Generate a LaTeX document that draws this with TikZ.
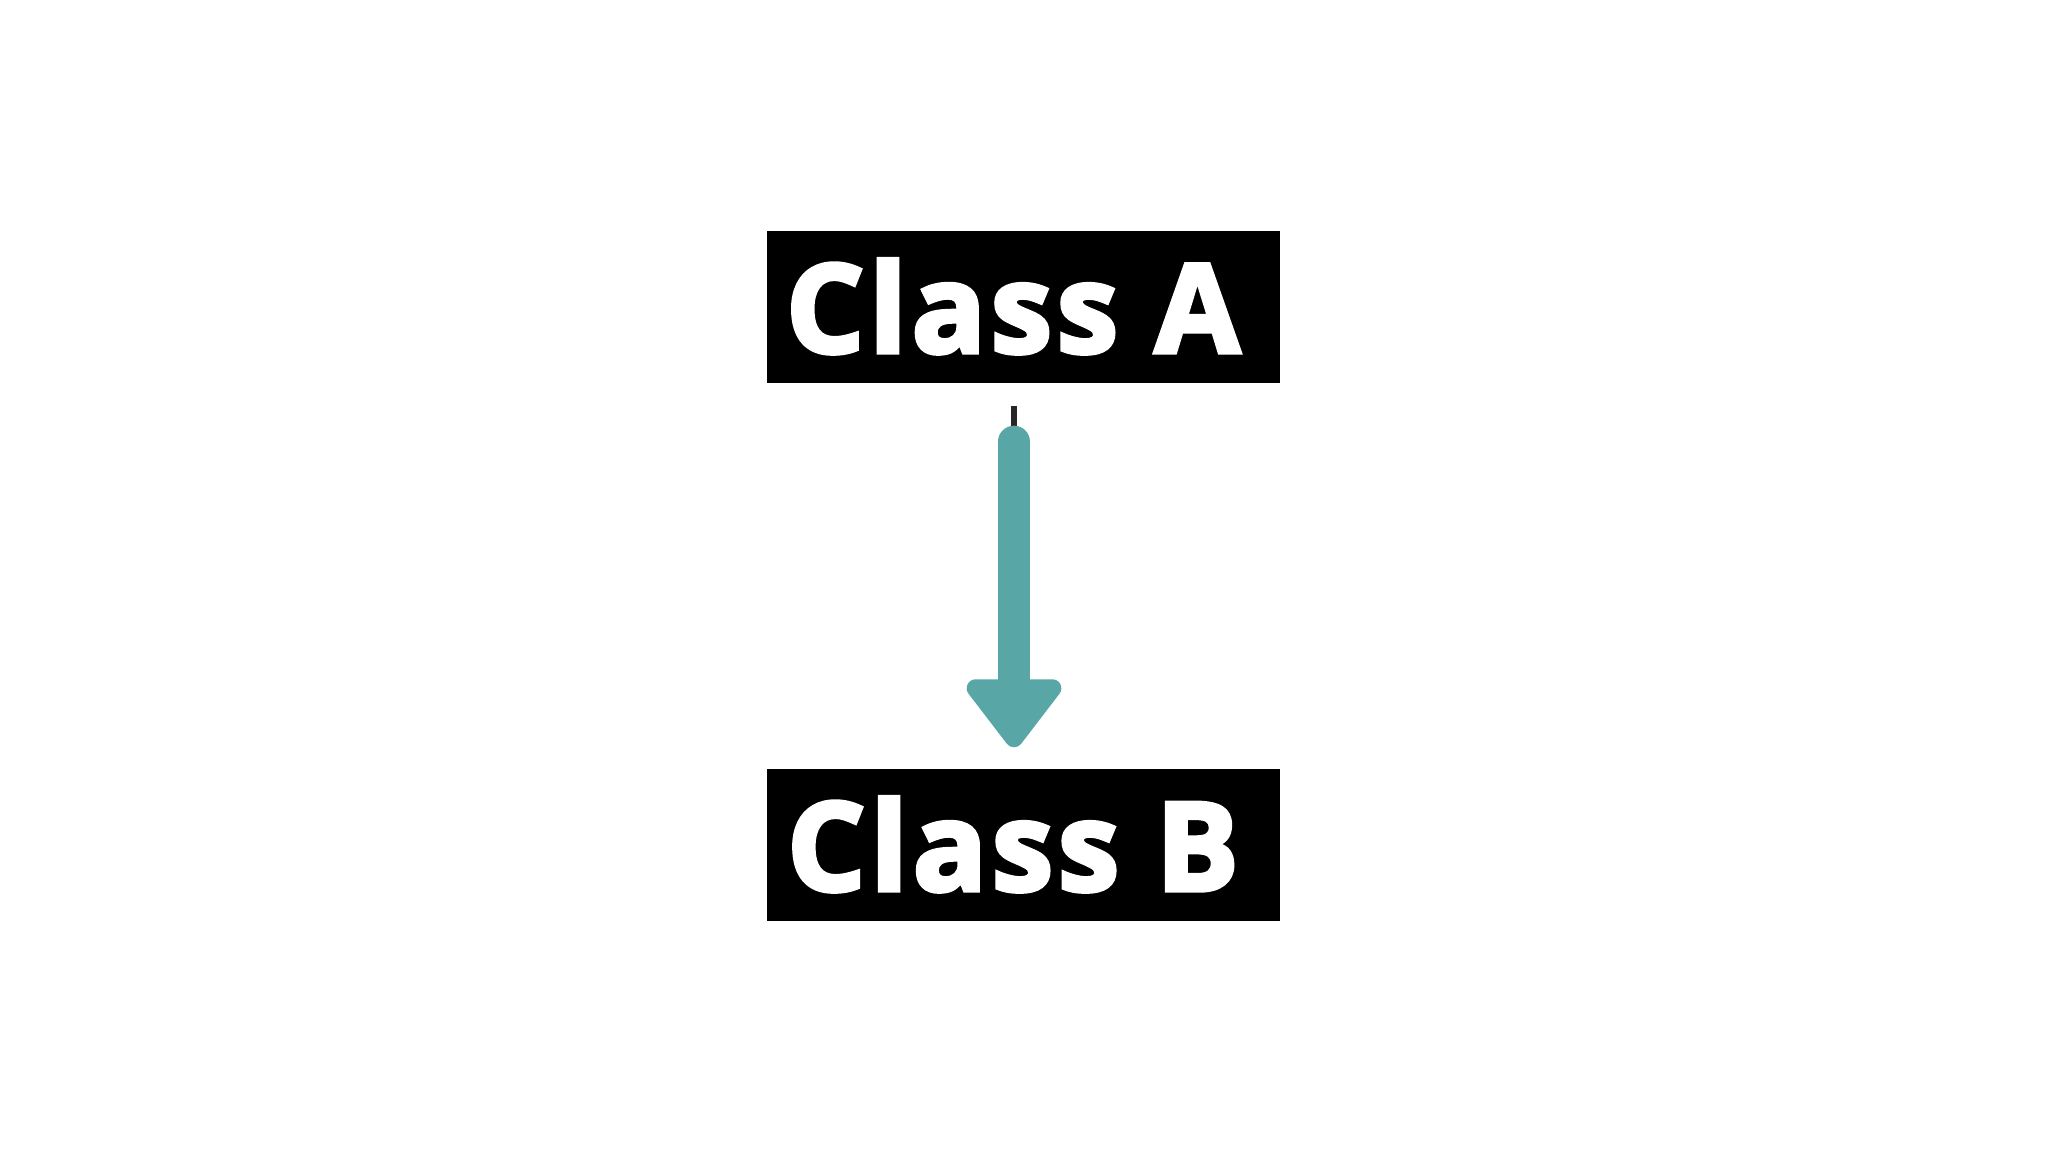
\documentclass[tikz,border=0pt]{standalone}
\usepackage{fontspec}
\setmainfont{Open Sans}[BoldFeatures={FakeBold=3.5,LetterSpace=4}]
\definecolor{arrowteal}{RGB}{88,166,166}
\definecolor{stubgrey}{RGB}{38,38,38}
\tikzset{
  classbox/.style={fill=black, text=white, font=\bfseries\fontsize{35}{40}\selectfont,
    minimum width=51.3mm, minimum height=15.2mm, inner sep=0pt, text height=9.1mm, text depth=0pt,
    execute at end node=\hspace*{2.1mm}},
  stub/.style={stubgrey, line width=0.6mm},
  shaft/.style={arrowteal, line width=3.2mm, line cap=round},
  head/.style={fill=arrowteal, draw=arrowteal, line width=1.8mm, line join=round}
}
\begin{document}
\begin{tikzpicture}[x=0.1mm, y=-0.1mm]
  \useasboundingbox (0,0) rectangle (2048,1152);
  \node[classbox] (A) at (1023.5,307) {Class A};
  \node[classbox] (B) at (1023.5,845) {Class B};
  \coordinate (top) at ([xshift=-0.95mm,yshift=-2.2mm]A.south);
  \coordinate (tip) at ([xshift=-0.95mm,yshift=2mm]B.north);
  \draw[stub] (top) -- ++(0,40);
  \draw[shaft] ([yshift=-3.6mm]top) -- ([yshift=6mm]tip);
  \path[head] (tip) ++(0,-10) -- ++(-38.3,-50) -- ++(76.6,0) -- cycle;
\end{tikzpicture}
\end{document}
